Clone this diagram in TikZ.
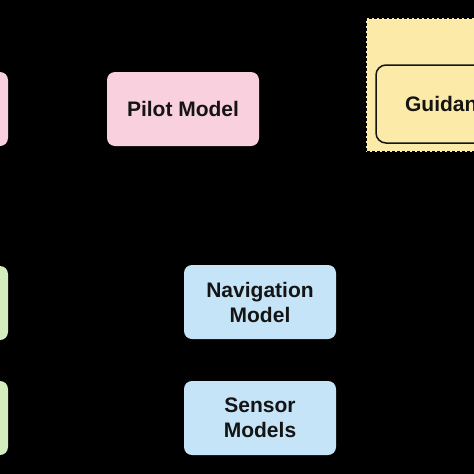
\documentclass[tikz,border=0pt]{standalone}
\usepackage{fontspec}
\setmainfont{Liberation Sans}
\usetikzlibrary{positioning}

\begin{document}
\begin{tikzpicture}[
  x=1pt, y=-1pt,
  font=\fontsize{21}{25}\selectfont\bfseries,
  blk/.style={rectangle, rounded corners=8pt, draw=none, minimum width=152pt,
              minimum height=74pt, inner sep=3pt, align=center, text=black!92},
  pil/.style={blk, fill=pilotpink},
  env/.style={blk, fill=envgreen},
  mdl/.style={blk, fill=modelblue},
  grp/.style={rectangle, draw=black, dashed, dash pattern=on 3pt off 2pt,
              line width=1.3pt, fill=guideyellow},
  gui/.style={blk, fill=guideyellow, draw=black!92, line width=1.5pt,
              rounded corners=10pt, minimum height=78pt, minimum width=154pt}
]
\definecolor{pilotpink}{HTML}{F9D1DE}
\definecolor{envgreen}{HTML}{D4EDBE}
\definecolor{modelblue}{HTML}{C5E4F7}
\definecolor{guideyellow}{HTML}{FCEAA8}

\useasboundingbox (0,0) rectangle (474,474);
\fill[black] (0,0) rectangle (474,474);
\clip (0,0) rectangle (474,474);

% left column, cut off by the frame
\node[pil] (aircraft) at (-68,109) {};
\node[env] (env1)     at (-68,303) {};
\node[env] (env2)     at (-68,418) {};

% middle blocks
\node[pil] (pilot)  at (183,109) {Pilot Model};
\node[mdl] (nav)    at (260,302) {Navigation\\Model};
\node[mdl] (sensor) at (260,418) {Sensor\\Models};

% guidance group
\draw[grp] (366,18) rectangle (620,152);
\node[gui] (guide) at (453,104) {Guidance};
\end{tikzpicture}
\end{document}
